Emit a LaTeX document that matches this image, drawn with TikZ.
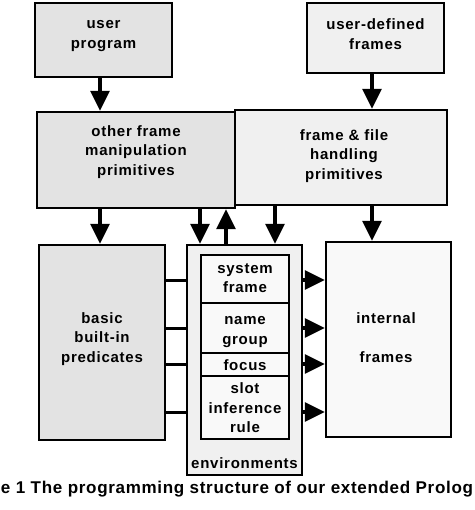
\documentclass[tikz,border=0pt]{standalone}
\usepackage{fontspec}
\usepackage{graphicx}
\setmainfont{Liberation Sans}
\usetikzlibrary{arrows.meta}
\begin{document}
\begin{tikzpicture}[x=1pt,y=-1pt,
  box/.style={draw, line width=2.4pt, inner sep=0pt, rectangle},
  dark/.style={box, fill=gray!22},
  mid/.style={box, fill=gray!12},
  light/.style={box, fill=gray!5},
  lbl/.style={align=center, inner sep=0pt, font=\bfseries\fontsize{15}{19.5}\selectfont\addfontfeature{LetterSpace=5}},
  arr/.style={line width=3.2pt, -{Triangle[width=19pt,length=20pt]}},
  link/.style={line width=3pt}]
\useasboundingbox (0,0) rectangle (474,510);
% boxes
\node[dark, minimum width=137pt, minimum height=74pt] (up) at (103.5,40) {};
\node[mid, minimum width=137pt, minimum height=70pt] (udf) at (375.5,38) {};
\node[dark, minimum width=198pt, minimum height=96pt] (other) at (136,160) {};
\node[mid, minimum width=212pt, minimum height=95pt] (ff) at (341,157.5) {};
\node[dark, minimum width=126pt, minimum height=195pt] (basic) at (102,342.5) {};
\node[mid, minimum width=115pt, minimum height=230pt] (env) at (244.5,360) {};
\node[light, minimum width=88pt, minimum height=48pt] (sys) at (245,279) {};
\node[light, minimum width=88pt, minimum height=50pt] (ng) at (245,328) {};
\node[light, minimum width=88pt, minimum height=23pt] (foc) at (245,364.5) {};
\node[light, minimum width=88pt, minimum height=63pt] (sir) at (245,407.5) {};
\node[light, minimum width=125pt, minimum height=195pt] (intf) at (388.5,339.5) {};
% labels
\node[lbl] (upT) at (103.5,36) {user\\program};
\node[lbl] (udfT) at (375.5,34) {user-defined\\frames};
\node[lbl] (otherT) at (136,152) {other frame\\manipulation\\primitives};
\node[lbl] (ffT) at (344,156) {frame \& file\\handling\\primitives};
\node[lbl] (basicT) at (102,339) {basic\\built-in\\predicates};
\node[lbl] (intfT1) at (386,318) {internal};
\node[lbl] (intfT2) at (386,357) {frames};
\node[lbl] (sysT) at (245,278) {system\\frame};
\node[lbl] (ngT) at (245,332) {name\\group};
\node[lbl] (focT) at (245,365) {focus};
\node[lbl] (sirT) at (245,408) {slot\\inference\\rule};
\node[lbl] (envT) at (244.5,463) {environments};
% x and y levels
\coordinate (xa) at (100,0);
\coordinate (xb) at (200,0);
\coordinate (xc) at (226,0);
\coordinate (xd) at (275,0);
\coordinate (xe) at (372,0);
\coordinate (y1) at (0,280);
\coordinate (y2) at (0,328);
\coordinate (y3) at (0,364);
\coordinate (y4) at (0,412);
% vertical arrows
\draw[arr] (up.south -| xa) -- (other.north -| xa);
\draw[arr] (udf.south -| xe) -- (ff.north -| xe);
\draw[arr] (other.south -| xa) -- (basic.north -| xa);
\draw[arr] (other.south -| xb) -- (env.north -| xb);
\draw[arr] (env.north -| xc) -- (other.south -| xc);
\draw[arr] (ff.south -| xd) -- (env.north -| xd);
\draw[arr] (ff.south -| xe) -- (intf.north -| xe);
% links basic -> env
\draw[link] (basic.east |- y1) -- (env.west |- y1);
\draw[link] (basic.east |- y2) -- (env.west |- y2);
\draw[link] (basic.east |- y3) -- (env.west |- y3);
\draw[link] (basic.east |- y4) -- (env.west |- y4);
% arrows env -> internal frames
\draw[arr] (env.east |- y1) -- (intf.west |- y1);
\draw[arr] (env.east |- y2) -- (intf.west |- y2);
\draw[arr] (env.east |- y3) -- (intf.west |- y3);
\draw[arr] (env.east |- y4) -- (intf.west |- y4);
% caption
\node[inner sep=0pt] (cap) at (237,489) {\resizebox{472pt}{!}{\bfseries\addfontfeature{LetterSpace=4}e 1 The programming structure of our extended Prolog}};
\end{tikzpicture}
\end{document}
